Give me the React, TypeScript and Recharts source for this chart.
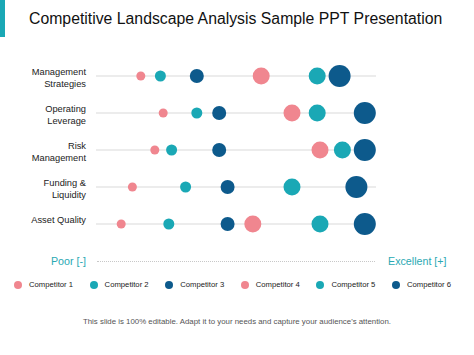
import { ScatterChart, Scatter, XAxis, YAxis, ReferenceLine } from "recharts";

// rows, top to bottom
const factors = [
  "Management\nStrategies",
  "Operating\nLeverage",
  "Risk\nManagement",
  "Funding &\nLiquidity",
  "Asset Quality",
];

// score on a 0 (poor) .. 100 (excellent) scale, one value per row
const competitor1 = [16, 24, 21, 13, 9];
const competitor2 = [23, 36, 27, 32, 26];
const competitor3 = [36, 44, 44, 47, 47];
const competitor4 = [59, 70, 80, null, 56];
const competitor5 = [79, 79, 88, 70, 80];
const competitor6 = [87, 96, 96, 93, 96];

const names = ["Competitor 1", "Competitor 2", "Competitor 3", "Competitor 4", "Competitor 5", "Competitor 6"];
const colors = ["#f0868f", "#1aa8b5", "#0d5a8c", "#f0868f", "#1aa8b5", "#0d5a8c"];
const radii = [4.5, 5.5, 7, 8.5, 8.5, 11];

const allSeries = [competitor1, competitor2, competitor3, competitor4, competitor5, competitor6];

const toPoints = (vals: (number | null)[]) =>
  vals
    .map((v, i) => ({ score: v, row: i + 1 }))
    .filter((p) => p.score !== null);

const rowTicks = factors.map((_, i) => i + 1);

const FONT = "'Liberation Sans', Arial, sans-serif";

function RowTick(props: any) {
  const { x, y, payload, anchor, shift } = props;
  const lines = factors[payload.value - 1].split("\n");
  const tx = x + shift;
  return (
    <text x={tx} y={y - 4} textAnchor={anchor} fontSize={9.3} fill="#222" fontFamily={FONT}>
      {lines.map((l, i) => (
        <tspan key={i} x={tx} dy={i === 0 ? "0.35em" : 11.5}>
          {l}
        </tspan>
      ))}
    </text>
  );
}

export default function App() {
  return (
    <div style={{ position: "relative", width: 474, height: 355, background: "#fff", fontFamily: FONT }}>
      <style>{"body{margin:0}"}</style>
      <div style={{ position: "absolute", left: 0, top: 0, width: 5, height: 37, background: "#1aa8b5" }} />
      <div
        style={{
          position: "absolute",
          left: 29,
          top: 10,
          fontSize: 15.8,
          color: "#111",
          whiteSpace: "nowrap",
        }}
      >
        Competitive Landscape Analysis Sample PPT Presentation
      </div>

      <ScatterChart width={474} height={355} margin={{ top: 57.5, right: 8, bottom: 112.5, left: 6 }}>
        <XAxis type="number" dataKey="score" domain={[0, 100]} hide />
        <YAxis
          yAxisId="left"
          type="number"
          dataKey="row"
          domain={[0.5, 5.5]}
          ticks={rowTicks}
          reversed
          width={90}
          axisLine={false}
          tickLine={false}
          tick={<RowTick anchor="end" shift={-2} />}
        />
        <YAxis
          yAxisId="right"
          orientation="right"
          type="number"
          domain={[0.5, 5.5]}
          ticks={rowTicks}
          reversed
          width={90}
          axisLine={false}
          tickLine={false}
          tick={<RowTick anchor="start" shift={4} />}
        />
        {rowTicks.map((r) => (
          <ReferenceLine key={r} yAxisId="left" y={r} stroke="#d9d9d9" strokeWidth={1} />
        ))}
        {allSeries.map((vals, i) => (
          <Scatter
            key={names[i]}
            name={names[i]}
            yAxisId="left"
            data={toPoints(vals)}
            fill={colors[i]}
            isAnimationActive={false}
            shape={(p: any) => <circle cx={p.cx} cy={p.cy} r={radii[i]} fill={colors[i]} />}
          />
        ))}
      </ScatterChart>

      <div style={{ position: "absolute", right: 474 - 86, top: 255, fontSize: 10.7, color: "#2aa9b3", whiteSpace: "nowrap" }}>
        Poor [-]
      </div>
      <div style={{ position: "absolute", left: 97, width: 278, top: 261, borderTop: "1px dotted #c8c8c8" }} />
      <div style={{ position: "absolute", left: 388, top: 255, fontSize: 10.7, color: "#2aa9b3", whiteSpace: "nowrap" }}>
        Excellent [+]
      </div>

      <div
        style={{
          position: "absolute",
          left: 14,
          top: 280,
          display: "flex",
          fontSize: 7.7,
          color: "#222",
        }}
      >
        {names.map((n, i) => (
          <div key={n} style={{ width: 75.6, display: "flex", alignItems: "center" }}>
            <span
              style={{
                display: "inline-block",
                width: 8,
                height: 8,
                borderRadius: 4,
                background: colors[i],
                marginRight: 7,
              }}
            />
            {n}
          </div>
        ))}
      </div>

      <div
        style={{
          position: "absolute",
          left: 0,
          width: 474,
          top: 317,
          textAlign: "center",
          fontSize: 7.85,
          color: "#555",
        }}
      >
        This slide is 100% editable. Adapt it to your needs and capture your audience's attention.
      </div>
    </div>
  );
}
